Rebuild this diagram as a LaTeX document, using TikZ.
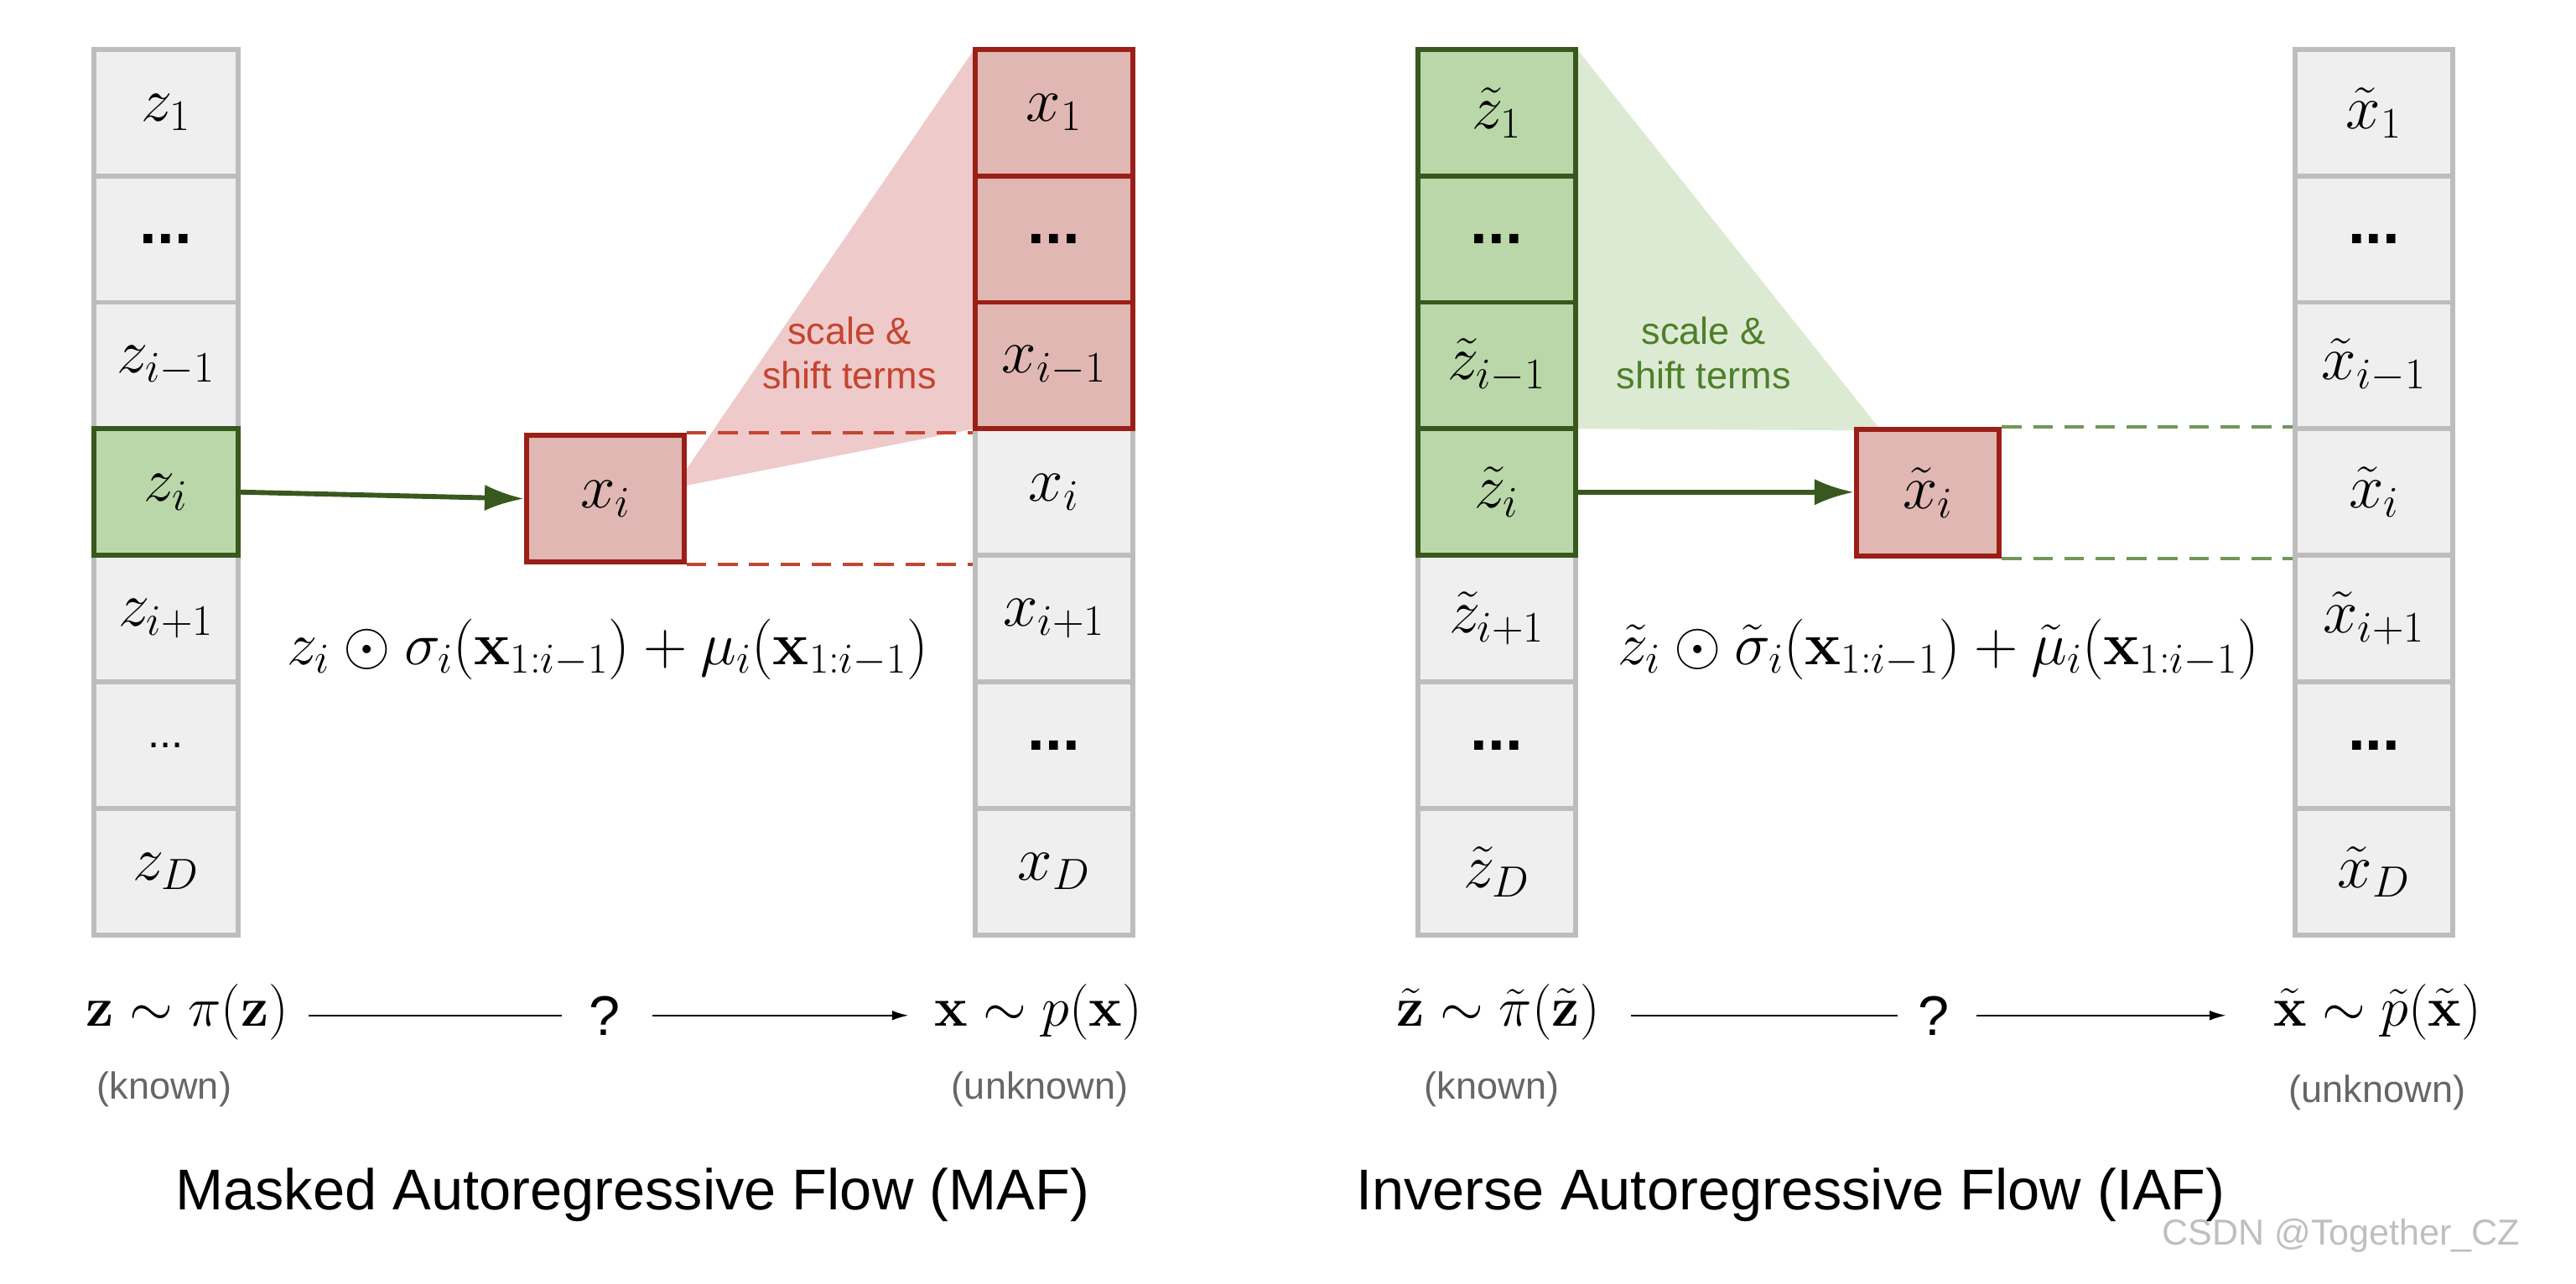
\RequirePackage{fix-cm}
\documentclass[tikz,border=0pt]{standalone}
\usepackage{amsmath,amssymb}
\usepackage[no-math]{fontspec}
\usetikzlibrary{arrows.meta}
\setmainfont{Liberation Sans}
\definecolor{cellgray}{HTML}{EFEFEF}
\definecolor{bordergray}{HTML}{BDBDBD}
\definecolor{gfill}{HTML}{B9D7A8}
\definecolor{gdark}{HTML}{38581D}
\definecolor{rfill}{HTML}{E0B7B2}
\definecolor{rdark}{HTML}{9A1F17}
\definecolor{rtri}{HTML}{EFCACA}
\definecolor{gtri}{HTML}{DCEAD3}
\definecolor{rtext}{HTML}{C44530}
\definecolor{gtext}{HTML}{4E7F2A}
\begin{document}
\begin{tikzpicture}[x=1pt,y=-1pt,
 cell/.style={draw=bordergray,fill=cellgray,line width=3pt,minimum width=#1,minimum height=77pt,inner sep=0pt,font=\fontsize{38}{44}\selectfont},
 cell/.default=88pt,
 gcell/.style={cell=#1,draw=gdark,fill=gfill},
 gcell/.default=96pt,
 rcell/.style={cell=#1,draw=rdark,fill=rfill},
 rcell/.default=96pt,
 lbl/.style={font=\fontsize{34}{40}\selectfont},
 small/.style={font=\fontsize{23}{27}\selectfont,text=black!60},
 title/.style={font=\fontsize{35}{42}\selectfont},
 formula/.style={font=\fontsize{37}{42}\selectfont},
 st/.style={font=\fontsize{23}{27}\selectfont,align=center},
 dashln/.style={line width=2pt,dash pattern=on 12pt off 7pt},
 arr/.style={line width=3pt,gdark,-{Latex[length=24pt,width=16pt]}},
 thin/.style={line width=1pt,-{Latex[length=10pt,width=6pt]}}]
\useasboundingbox (0,0) rectangle (1568,781);
% triangles
\fill[rtri] (410,297) -- (593,30) -- (593,261) -- cycle;
\fill[gtri] (960,30) -- (960,261) -- (1145,262) -- cycle;
% MAF
\foreach \n/\t [count=\k from 0] in {a/$z_1$,b/\textbf{...},c/$z_{i-1}$,d/$z_i$,e/$z_{i+1}$,f/{\fontsize{26}{30}\selectfont...},g/$z_D$}{
  \node[cell=88pt] (L\n) at (101,68.5+77*\k) {\t};}
\node[gcell=88pt] at (Ld) {$z_i$};
\foreach \n/\t [count=\k from 0] in {a/$x_1$,b/\textbf{...},c/$x_{i-1}$,d/$x_i$,e/$x_{i+1}$,f/\textbf{...},g/$x_D$}{
  \node[cell=96pt] (R\n) at (641.5,68.5+77*\k) {\t};}
\node[rcell] at (Ra) {$x_1$};
\node[rcell] at (Rb) {\textbf{...}};
\node[rcell] at (Rc) {$x_{i-1}$};
\node[rcell=96pt] (xi) at (368.5,303.5) {$x_i$};
\draw[arr] (Ld.east) -- (xi.west);
\draw[rtext,dashln] (xi.north east) -- (xi.north east -| Rd.west);
\draw[rtext,dashln] (xi.south east) -- (xi.south east -| Rd.west);
\node[st,text=rtext] at (517,215) {scale \&\\shift terms};
\node[formula] at (370,395) {$z_i \odot \sigma_i(\mathbf{x}_{1:i-1}) + \mu_i(\mathbf{x}_{1:i-1})$};
\node[lbl] at (114,616) {$\mathbf{z}\sim\pi(\mathbf{z})$};
\node[lbl] at (368,618) {?};
\node[lbl] at (632,616) {$\mathbf{x}\sim p(\mathbf{x})$};
\draw[line width=1.2pt] (188,618) -- (342,618);
\draw[thin] (397,618) -- (553,618);
\node[small] at (100,663) {(known)};
\node[small] at (633,663) {(unknown)};
\node[title] at (385,727) {Masked Autoregressive Flow (MAF)};
% IAF
\foreach \n/\t [count=\k from 0] in {a/$\tilde z_1$,b/\textbf{...},c/$\tilde z_{i-1}$,d/$\tilde z_i$,e/$\tilde z_{i+1}$,f/\textbf{...},g/$\tilde z_D$}{
  \node[cell=96pt] (P\n) at (911,68.5+77*\k) {\t};}
\node[gcell] at (Pa) {$\tilde z_1$};
\node[gcell] at (Pb) {\textbf{...}};
\node[gcell] at (Pc) {$\tilde z_{i-1}$};
\node[gcell] at (Pd) {$\tilde z_i$};
\foreach \n/\t [count=\k from 0] in {a/$\tilde x_1$,b/\textbf{...},c/$\tilde x_{i-1}$,d/$\tilde x_i$,e/$\tilde x_{i+1}$,f/\textbf{...},g/$\tilde x_D$}{
  \node[cell=96pt] (Q\n) at (1445,68.5+77*\k) {\t};}
\node[rcell=87pt] (xt) at (1173.5,300) {$\tilde x_i$};
\draw[arr] (Pd.east) -- (xt.west |- Pd.east);
\draw[gtext!80,dashln] (xt.north east) -- (xt.north east -| Qd.west);
\draw[gtext!80,dashln] (xt.south east) -- (xt.south east -| Qd.west);
\node[st,text=gtext] at (1037,215) {scale \&\\shift terms};
\node[formula] at (1180,395) {$\tilde z_i \odot \tilde\sigma_i(\mathbf{x}_{1:i-1}) + \tilde\mu_i(\mathbf{x}_{1:i-1})$};
\node[lbl] at (912,616) {$\tilde{\mathbf{z}}\sim\tilde\pi(\tilde{\mathbf{z}})$};
\node[lbl] at (1177,618) {?};
\node[lbl] at (1447,616) {$\tilde{\mathbf{x}}\sim \tilde p(\tilde{\mathbf{x}})$};
\draw[line width=1.2pt] (993,618) -- (1155,618);
\draw[thin] (1203,618) -- (1355,618);
\node[small] at (908,663) {(known)};
\node[small] at (1447,665) {(unknown)};
\node[title] at (1090,727) {Inverse Autoregressive Flow (IAF)};
\node[font=\fontsize{22}{26}\selectfont,text=black!25] at (1425,752) {CSDN @Together\_CZ};
\end{tikzpicture}
\end{document}
